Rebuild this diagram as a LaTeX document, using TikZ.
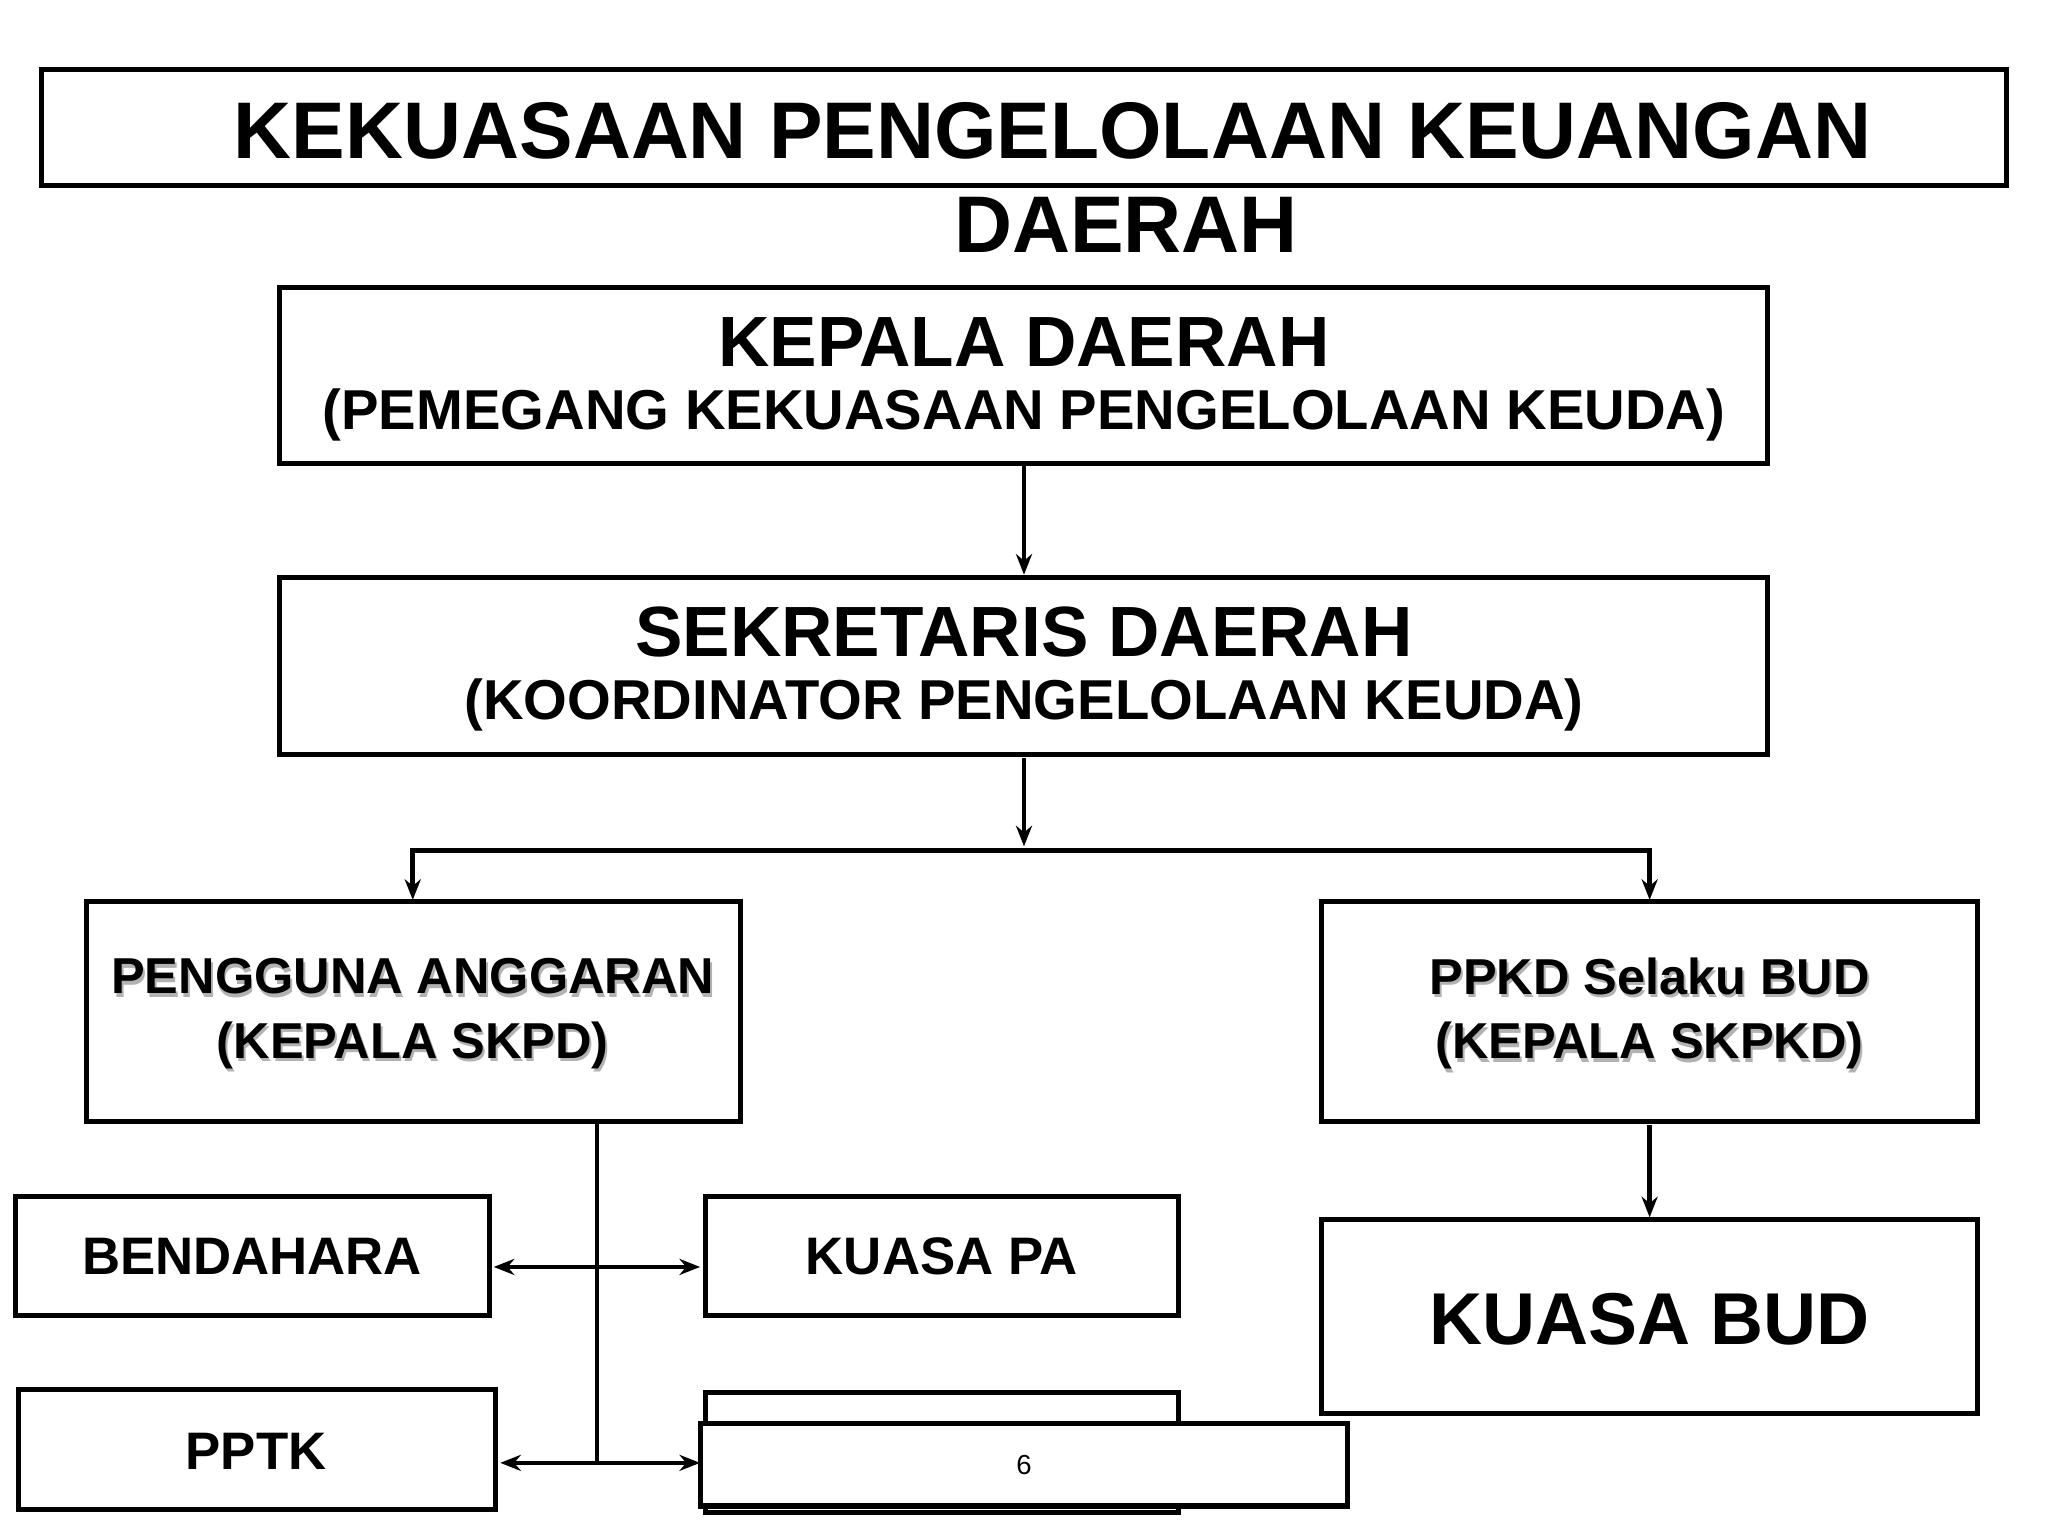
\documentclass[tikz,border=0pt]{standalone}
\usepackage{fontspec}
\usetikzlibrary{arrows.meta}
\setmainfont{Liberation Sans}
\begin{document}
\begin{tikzpicture}[x=0.02cm,y=-0.02cm,
  box/.style={draw,line width=2.2pt,fill=white},
  con/.style={line width=2pt},
  arr/.style={con,-{Stealth[length=9pt,width=7pt]}},
  darr/.style={con,{Stealth[length=9pt,width=7pt]}-{Stealth[length=9pt,width=7pt]}},
  tx/.style={font=\bfseries,inner sep=0pt}]
\useasboundingbox (0,0) rectangle (1568,1176);
\draw[box] (32,53) rectangle (1536,142);
\node[tx,font=\fontsize{35}{40}\bfseries\selectfont] (t1) at (806,100) {KEKUASAAN PENGELOLAAN KEUANGAN};
\node[tx,font=\fontsize{35}{40}\bfseries\selectfont] (t2) at (862,172) {DAERAH};
\draw[box] (214,220) rectangle (1353,355) coordinate (kb);
\node[tx,font=\fontsize{31}{36}\bfseries\selectfont] (k1) at (784,262) {KEPALA DAERAH};
\node[tx,font=\fontsize{24.5}{30}\bfseries\selectfont] (k2) at (784,318) {(PEMEGANG KEKUASAAN PENGELOLAAN KEUDA)};
\draw[box] (214,442) rectangle (1353,578);
\node[tx,font=\fontsize{31}{36}\bfseries\selectfont] (s1) at (784,484) {SEKRETARIS DAERAH};
\node[tx,font=\fontsize{24.5}{30}\bfseries\selectfont] (s2) at (784,540) {(KOORDINATOR PENGELOLAAN KEUDA)};
\coordinate (a1) at (784,357); \coordinate (a2) at (784,440);
\draw[arr] (a1) -- (a2);
\coordinate (b1) at (784,580); \coordinate (b2) at (784,648);
\draw[arr] (b1) -- (b2);
\coordinate (l) at (316,651); \coordinate (r) at (1263,651);
\coordinate (lb) at (316,689); \coordinate (rb) at (1263,689);
\draw[arr] (r) -- (l) -- (lb);
\draw[arr] (l) -- (r) -- (rb);
\draw[box] (66,690) rectangle (567,859);
\node[tx,align=center,font=\fontsize{22}{28}\bfseries\selectfont,gray!60] at (317.5,778.5) {PENGGUNA ANGGARAN\\(KEPALA SKPD)};
\node[tx,align=center,font=\fontsize{22}{28}\bfseries\selectfont] (pa) at (316,776) {PENGGUNA ANGGARAN\\(KEPALA SKPD)};
\draw[box] (1012,690) rectangle (1514,859);
\node[tx,align=center,font=\fontsize{22}{28}\bfseries\selectfont,gray!60] at (1264.5,778.5) {PPKD Selaku BUD\\(KEPALA SKPKD)};
\node[tx,align=center,font=\fontsize{22}{28}\bfseries\selectfont] (pp) at (1263,776) {PPKD Selaku BUD\\(KEPALA SKPKD)};
\coordinate (c1) at (1263,861); \coordinate (c2) at (1263,932);
\draw[arr] (c1) -- (c2);
\draw[box] (1012,934) rectangle (1514,1082);
\node[tx,font=\fontsize{32}{38}\bfseries\selectfont] (kbud) at (1263,1010) {KUASA BUD};
\draw[box] (12,916) rectangle (375,1007);
\node[tx,font=\fontsize{23}{28}\bfseries\selectfont] (ben) at (193,962) {BENDAHARA};
\draw[box] (540,916) rectangle (902,1007);
\node[tx,font=\fontsize{23}{28}\bfseries\selectfont] (kpa) at (721,962) {KUASA PA};
\draw[box] (14,1064) rectangle (379,1156);
\node[tx,font=\fontsize{23}{28}\bfseries\selectfont] (pptk) at (196,1111) {PPTK};
\coordinate (v1) at (457,859); \coordinate (v2) at (457,1120);
\draw[con] (v1) -- (v2);
\coordinate (d1) at (378,970); \coordinate (d2) at (536,970);
\draw[darr] (d1) -- (d2);
\coordinate (e1) at (383,1120); \coordinate (e2) at (536,1120);
\draw[darr] (e1) -- (e2);
\draw[box] (540,1066) rectangle (902,1158);
\draw[box] (536,1090) rectangle (1032,1153);
\node[inner sep=0pt,font=\fontsize{12}{14}\selectfont] (pg) at (784,1122) {6};
\end{tikzpicture}
\end{document}
